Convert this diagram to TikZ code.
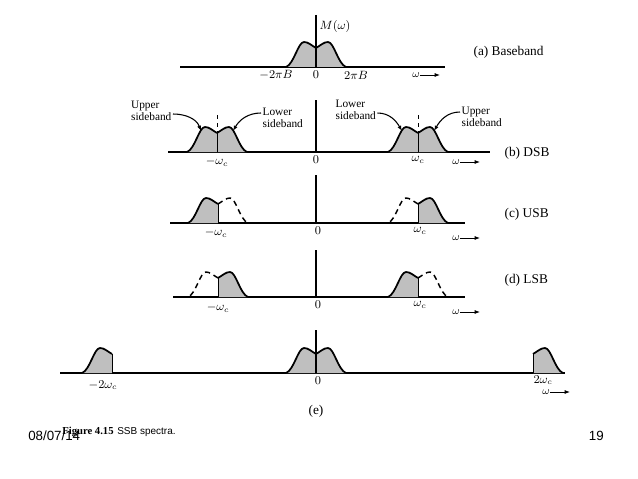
\documentclass[tikz,border=0pt]{standalone}
\usepackage{fontspec}
\setmainfont{Liberation Serif}
\newfontfamily\arialf{Liberation Sans}
\usetikzlibrary{arrows.meta}
\tikzset{
 ax/.style={line width=1pt},
 lbl/.style={font=\fontsize{9}{10}\selectfont, inner sep=1pt},
 captn/.style={font=\fontsize{10}{11}\selectfont, inner sep=1pt, anchor=west},
 ann/.style={font=\fontsize{8.5}{9}\selectfont, inner sep=1pt, align=left},
 pointer/.style={-{Latex[length=4pt,width=3pt]}, line width=0.8pt},
 halfs/.pic={\fill[gray!50] (0,0) -- (0,-19) .. controls (5,-22) and (8,-25) .. (12,-25) .. controls (18,-25) and (22,-3) .. (30,0) -- cycle;
   \draw[line width=1.3pt] (0,-19) .. controls (5,-22) and (8,-25) .. (12,-25) .. controls (18,-25) and (22,-3) .. (30,0);
   \draw[line width=0.6pt] (0,0) -- (0,-19);},
 halfd/.pic={\draw[line width=1.1pt, dash pattern=on 4pt off 3pt] (0,-19) .. controls (5,-22) and (8,-25) .. (12,-25) .. controls (18,-25) and (22,-3) .. (30,0);},
 waxis/.style={font=\fontsize{8.5}{9}\selectfont\itshape, inner sep=0pt}
}
\newcommand{\wlabel}[2]{\node[waxis] (#2) at (#1) {$\omega$}; \draw[-{Latex[length=4pt,width=3pt]}, line width=0.7pt] (#2.east) -- ++(20,0);}
\begin{document}
\begin{tikzpicture}[x=0.75pt,y=-0.75pt]
\useasboundingbox (0,0) rectangle (638,478);
% (a)
\coordinate (a1) at (180,67); \coordinate (a2) at (445,67);
\draw[ax] (a1) -- (a2);
\pic at (316,67) {halfs}; \pic[xscale=-1] at (316,67) {halfs};
\coordinate (av0) at (316,15); \coordinate (av1) at (316,67);
\draw[line width=0.8pt] (av0) -- (av1);
\node[lbl, anchor=west] (M) at (318,27) {$M(\omega)$};
\node[lbl] (a-2) at (276,75) {$-2\pi B$};
\node[lbl] (a0) at (316,75) {$0$};
\node[lbl] (a2b) at (356,75) {$2\pi B$};
\wlabel{416,75}{aw}
\node[captn] (ca) at (472,52) {(a)\ Baseband};
% (b)
\coordinate (b1) at (168,152); \coordinate (b2) at (490,152);
\draw[ax] (b1) -- (b2);
\foreach \c in {217,418}{\pic at (\c,152) {halfs}; \pic[xscale=-1] at (\c,152) {halfs};
 \draw[dashed, line width=0.6pt] (\c,115) -- (\c,152);}
\coordinate (bv0) at (316,100); \coordinate (bv1) at (316,152);
\draw[line width=0.8pt] (bv0) -- (bv1);
\node[lbl] at (217,162) {$-\omega_c$};
\node[lbl] at (316,160) {$0$};
\node[lbl] at (418,160) {$\omega_c$};
\wlabel{456,162}{bw}
\node[captn] (cb) at (503,153) {(b)\ DSB};
\node[ann, anchor=east] (u1) at (173,111) {Upper\\sideband};
\node[ann, anchor=west] (l1) at (261,118) {Lower\\sideband};
\node[ann, anchor=west] (l2) at (334,110) {Lower\\sideband};
\node[ann, anchor=west] (u2) at (460,117) {Upper\\sideband};
\coordinate (u1t) at (201,131); \coordinate (l1t) at (233,131);
\coordinate (l2t) at (402,131); \coordinate (u2t) at (434,131);
\draw[pointer] (u1.east) ++(0,3) to[out=0,in=110] (u1t);
\draw[pointer] (l1.west) ++(0,-5) to[out=180,in=60] (l1t);
\draw[pointer] (l2.east) ++(0,3) to[out=0,in=120] (l2t);
\draw[pointer] (u2.west) ++(0,-5) to[out=180,in=60] (u2t);
% (c)
\coordinate (c1) at (170,223); \coordinate (c2) at (465,223);
\draw[ax] (c1) -- (c2);
\pic[xscale=-1] at (218,223) {halfs}; \pic at (218,223) {halfd};
\pic at (418,223) {halfs}; \pic[xscale=-1] at (418,223) {halfd};
\coordinate (cv0) at (316,175); \coordinate (cv1) at (316,223);
\draw[line width=0.8pt] (cv0) -- (cv1);
\node[lbl] at (216,233) {$-\omega_c$};
\node[lbl] at (318,231) {$0$};
\node[lbl] at (420,231) {$\omega_c$};
\wlabel{456,238}{cw}
\node[captn] (cc) at (503,214) {(c)\ USB};
% (d)
\coordinate (d1) at (173,297); \coordinate (d2) at (465,297);
\draw[ax] (d1) -- (d2);
\pic at (218,297) {halfs}; \pic[xscale=-1] at (218,297) {halfd};
\pic[xscale=-1] at (418,297) {halfs}; \pic at (418,297) {halfd};
\coordinate (dv0) at (316,250); \coordinate (dv1) at (316,297);
\draw[line width=0.8pt] (dv0) -- (dv1);
\node[lbl] at (218,308) {$-\omega_c$};
\node[lbl] at (318,305) {$0$};
\node[lbl] at (420,305) {$\omega_c$};
\wlabel{456,312}{dw}
\node[captn] (cd) at (503,280) {(d)\ LSB};
% (e)
\coordinate (e1) at (60,373); \coordinate (e2) at (565,373);
\draw[ax] (e1) -- (e2);
\pic at (316,373) {halfs}; \pic[xscale=-1] at (316,373) {halfs};
\pic[xscale=-1] at (112,373) {halfs};
\pic at (533,373) {halfs};
\coordinate (ev0) at (316,330); \coordinate (ev1) at (316,373);
\draw[line width=0.8pt] (ev0) -- (ev1);
\node[lbl] at (103,385) {$-2\omega_c$};
\node[lbl] at (318,381) {$0$};
\node[lbl] at (543,380) {$2\omega_c$};
\wlabel{546,392}{ew}
\node[lbl, font=\fontsize{10}{11}\selectfont] (ce) at (316,411) {(e)};
% footer
\node[anchor=west, inner sep=0pt, font=\fontsize{8}{9}\selectfont\bfseries] (fig) at (62,432) {Figure 4.15};
\node[anchor=west, inner sep=0pt, font=\arialf\fontsize{7.5}{9}\selectfont] (figt) at (117,432) {SSB spectra.};
\node[anchor=west, inner sep=0pt, font=\arialf\fontsize{10}{11}\selectfont] (date) at (28,436) {08/07/14};
\node[anchor=east, inner sep=0pt, font=\arialf\fontsize{10}{11}\selectfont] (pg) at (604,436) {19};
\end{tikzpicture}
\end{document}
